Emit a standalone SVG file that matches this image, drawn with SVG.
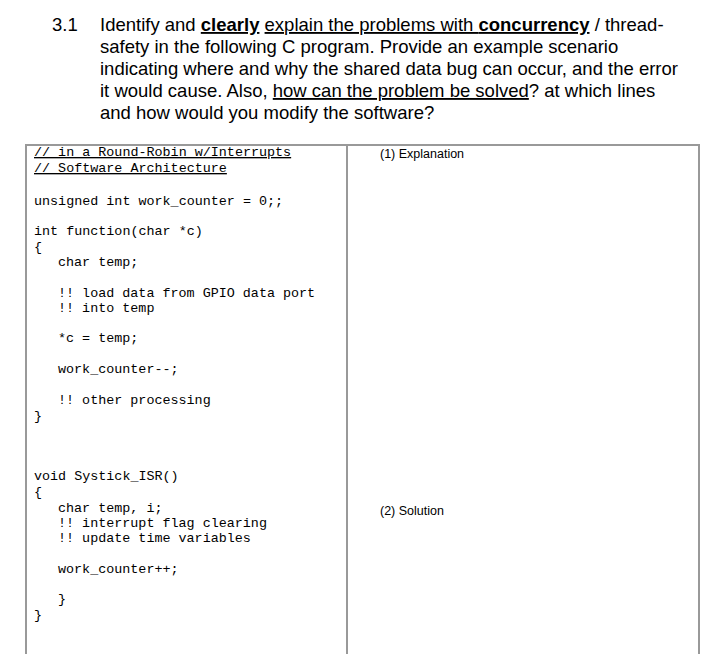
<svg xmlns="http://www.w3.org/2000/svg" width="717" height="654" viewBox="0 0 717 654">
<style>
.h{font-family:"Liberation Sans",Arial,sans-serif;font-size:18.5px;fill:#000}
.c{font-family:"Liberation Mono","Courier New",monospace;font-size:13.4px;fill:#000;white-space:pre}
.r{font-family:"Liberation Sans",Arial,sans-serif;font-size:12.5px;fill:#000}
.b{stroke:#999;stroke-width:2;fill:none}
</style>
<rect width="717" height="654" fill="#fff"/>
<g id="header">
<text class="h" x="52" y="31">3.1</text>
<text class="h" x="100" y="31">Identify and <tspan font-weight="bold" text-decoration="underline">clearly</tspan> <tspan text-decoration="underline">explain the problems with </tspan><tspan font-weight="bold" text-decoration="underline">concurrency</tspan> / thread-</text>
<text class="h" x="100" y="53">safety in the following C program. Provide an example scenario</text>
<text class="h" x="100" y="75">indicating where and why the shared data bug can occur, and the error</text>
<text class="h" x="100" y="97">it would cause. Also, <tspan text-decoration="underline">how can the problem be solved</tspan>? at which lines</text>
<text class="h" x="100" y="119">and how would you modify the software?</text>
</g>
<g id="table">
<path class="b" d="M26 654V145H699V654M347 145V654"/>
</g>
<g id="code">
<text class="c" x="34" y="156" text-decoration="underline">// in a Round-Robin w/Interrupts</text>
<text class="c" x="34" y="172" text-decoration="underline">// Software Architecture</text>
<text class="c" x="34" y="205">unsigned int work_counter = 0;;</text>
<text class="c" x="34" y="235">int function(char *c)</text>
<text class="c" x="34" y="251">{</text>
<text class="c" x="58" y="266">char temp;</text>
<text class="c" x="58" y="297">!! load data from GPIO data port</text>
<text class="c" x="58" y="312">!! into temp</text>
<text class="c" x="58" y="342">*c = temp;</text>
<text class="c" x="58" y="373">work_counter--;</text>
<text class="c" x="58" y="404">!! other processing</text>
<text class="c" x="34" y="420">}</text>
<text class="c" x="34" y="480">void Systick_ISR()</text>
<text class="c" x="34" y="496">{</text>
<text class="c" x="58" y="512">char temp, i;</text>
<text class="c" x="58" y="527">!! interrupt flag clearing</text>
<text class="c" x="58" y="542">!! update time variables</text>
<text class="c" x="58" y="573">work_counter++;</text>
<text class="c" x="58" y="603">}</text>
<text class="c" x="34" y="619">}</text>
</g>
<g id="answers">
<text class="r" x="380" y="158">(1)  Explanation</text>
<text class="r" x="380" y="515">(2)  Solution</text>
</g>
</svg>
